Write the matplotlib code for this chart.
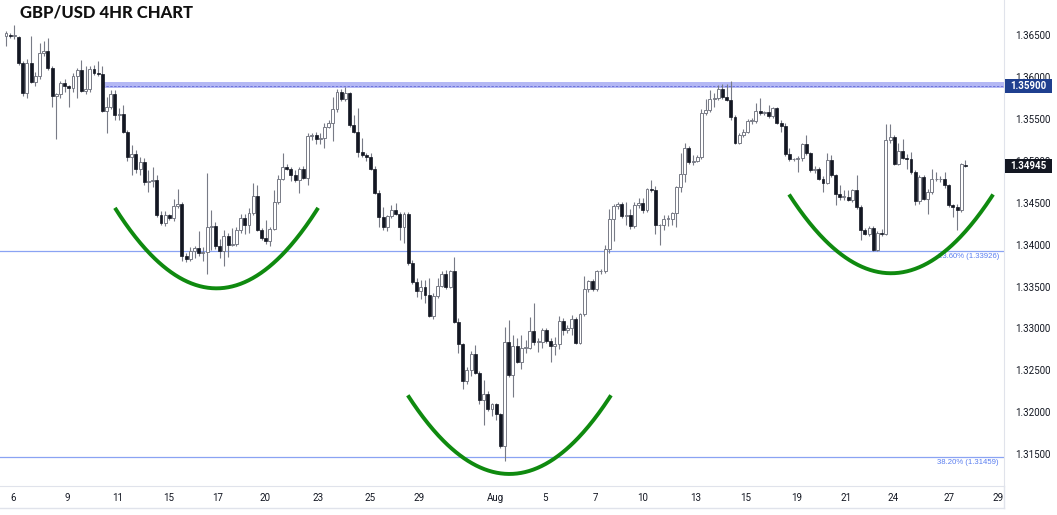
import numpy as np
import matplotlib
matplotlib.use('Agg')
import matplotlib.pyplot as plt
import matplotlib.transforms as mtransforms
from matplotlib.patches import Rectangle

# GBP/USD 4H candles
opens = [
    1.3649, 1.3650, 1.3649, 1.3648, 1.3617, 1.3581, 1.3617, 1.3595, 1.3602, 1.3629,
    1.3632, 1.3611, 1.3578, 1.3580, 1.3593, 1.3590, 1.3587, 1.3601, 1.3609, 1.3584,
    1.3586, 1.3610, 1.3605, 1.3604, 1.3560, 1.3564, 1.3580, 1.3555, 1.3556, 1.3535,
    1.3505, 1.3508, 1.3491, 1.3499, 1.3475, 1.3476, 1.3477, 1.3435, 1.3426, 1.3435,
    1.3432, 1.3446, 1.3449, 1.3387, 1.3383, 1.3393, 1.3396, 1.3390, 1.3391, 1.3421,
    1.3422, 1.3398, 1.3393, 1.3410, 1.3400, 1.3401, 1.3418, 1.3432, 1.3424, 1.3438,
    1.3458, 1.3418, 1.3408, 1.3404, 1.3419, 1.3451, 1.3479, 1.3493, 1.3491, 1.3483,
    1.3477, 1.3490, 1.3480, 1.3530, 1.3531, 1.3526, 1.3527, 1.3541, 1.3546, 1.3562,
    1.3583, 1.3574, 1.3581, 1.3543, 1.3535, 1.3511, 1.3507, 1.3505, 1.3491, 1.3462,
    1.3433, 1.3421, 1.3434, 1.3442, 1.3437, 1.3421, 1.3437, 1.3378, 1.3355, 1.3345,
    1.3349, 1.3340, 1.3315, 1.3339, 1.3351, 1.3365, 1.3350, 1.3368, 1.3308, 1.3281,
    1.3237, 1.3250, 1.3269, 1.3247, 1.3214, 1.3221, 1.3204, 1.3209, 1.3198, 1.3159,
    1.3284, 1.3244, 1.3279, 1.3260, 1.3277, 1.3277, 1.3297, 1.3284, 1.3284, 1.3298,
    1.3285, 1.3279, 1.3281, 1.3309, 1.3298, 1.3301, 1.3311, 1.3283, 1.3317, 1.3347,
    1.3356, 1.3347, 1.3368, 1.3369, 1.3395, 1.3431, 1.3446, 1.3449, 1.3434, 1.3436,
    1.3422, 1.3448, 1.3450, 1.3441, 1.3466, 1.3465, 1.3423, 1.3423, 1.3431, 1.3431,
    1.3438, 1.3469, 1.3485, 1.3515, 1.3499, 1.3500, 1.3505, 1.3557, 1.3561, 1.3574,
    1.3575, 1.3586, 1.3576, 1.3573, 1.3552, 1.3522, 1.3531, 1.3535, 1.3548, 1.3548,
    1.3560, 1.3557, 1.3558, 1.3554, 1.3563, 1.3546, 1.3542, 1.3508, 1.3502, 1.3502,
    1.3504, 1.3520, 1.3509, 1.3489, 1.3491, 1.3479, 1.3474, 1.3501, 1.3483, 1.3461,
    1.3457, 1.3457, 1.3453, 1.3465, 1.3445, 1.3418, 1.3413, 1.3420, 1.3394, 1.3414,
    1.3413, 1.3525, 1.3529, 1.3497, 1.3512, 1.3503, 1.3502, 1.3487, 1.3452, 1.3481,
    1.3455, 1.3463, 1.3478, 1.3478, 1.3479, 1.3471, 1.3447, 1.3445, 1.3441, 1.3495,
]
highs = [
    1.3655, 1.3653, 1.3663, 1.3649, 1.3620, 1.3622, 1.3649, 1.3606, 1.3641, 1.3643,
    1.3647, 1.3614, 1.3581, 1.3596, 1.3598, 1.3591, 1.3605, 1.3611, 1.3621, 1.3613,
    1.3614, 1.3615, 1.3619, 1.3614, 1.3577, 1.3585, 1.3585, 1.3563, 1.3567, 1.3537,
    1.3519, 1.3513, 1.3505, 1.3503, 1.3489, 1.3493, 1.3483, 1.3440, 1.3440, 1.3437,
    1.3454, 1.3467, 1.3451, 1.3390, 1.3397, 1.3399, 1.3416, 1.3397, 1.3486, 1.3441,
    1.3427, 1.3407, 1.3418, 1.3414, 1.3420, 1.3421, 1.3437, 1.3437, 1.3444, 1.3474,
    1.3471, 1.3420, 1.3430, 1.3421, 1.3465, 1.3483, 1.3510, 1.3496, 1.3493, 1.3489,
    1.3493, 1.3494, 1.3534, 1.3534, 1.3535, 1.3534, 1.3546, 1.3549, 1.3576, 1.3586,
    1.3586, 1.3589, 1.3583, 1.3555, 1.3563, 1.3527, 1.3510, 1.3509, 1.3494, 1.3465,
    1.3445, 1.3436, 1.3448, 1.3450, 1.3439, 1.3439, 1.3439, 1.3382, 1.3360, 1.3358,
    1.3358, 1.3360, 1.3342, 1.3360, 1.3368, 1.3370, 1.3370, 1.3385, 1.3312, 1.3283,
    1.3254, 1.3273, 1.3280, 1.3249, 1.3238, 1.3225, 1.3211, 1.3211, 1.3199, 1.3302,
    1.3310, 1.3292, 1.3289, 1.3292, 1.3286, 1.3313, 1.3330, 1.3288, 1.3300, 1.3300,
    1.3288, 1.3290, 1.3315, 1.3312, 1.3304, 1.3316, 1.3314, 1.3318, 1.3362, 1.3358,
    1.3359, 1.3370, 1.3371, 1.3400, 1.3443, 1.3449, 1.3451, 1.3451, 1.3451, 1.3443,
    1.3451, 1.3456, 1.3456, 1.3468, 1.3477, 1.3470, 1.3425, 1.3436, 1.3435, 1.3439,
    1.3470, 1.3510, 1.3521, 1.3518, 1.3507, 1.3507, 1.3562, 1.3574, 1.3585, 1.3581,
    1.3591, 1.3592, 1.3592, 1.3596, 1.3555, 1.3533, 1.3538, 1.3550, 1.3551, 1.3569,
    1.3575, 1.3560, 1.3567, 1.3565, 1.3565, 1.3549, 1.3545, 1.3515, 1.3504, 1.3506,
    1.3522, 1.3531, 1.3511, 1.3494, 1.3493, 1.3482, 1.3509, 1.3507, 1.3485, 1.3471,
    1.3465, 1.3465, 1.3466, 1.3483, 1.3447, 1.3420, 1.3422, 1.3422, 1.3416, 1.3419,
    1.3544, 1.3544, 1.3531, 1.3521, 1.3526, 1.3508, 1.3511, 1.3489, 1.3483, 1.3483,
    1.3467, 1.3490, 1.3487, 1.3482, 1.3487, 1.3473, 1.3449, 1.3449, 1.3498, 1.3501,
]
lows = [
    1.3637, 1.3647, 1.3646, 1.3615, 1.3578, 1.3575, 1.3593, 1.3590, 1.3598, 1.3626,
    1.3609, 1.3564, 1.3526, 1.3575, 1.3583, 1.3564, 1.3582, 1.3575, 1.3582, 1.3580,
    1.3583, 1.3603, 1.3602, 1.3558, 1.3533, 1.3562, 1.3549, 1.3549, 1.3533, 1.3500,
    1.3483, 1.3486, 1.3483, 1.3471, 1.3463, 1.3469, 1.3433, 1.3424, 1.3422, 1.3430,
    1.3428, 1.3444, 1.3380, 1.3379, 1.3381, 1.3384, 1.3386, 1.3381, 1.3365, 1.3394,
    1.3395, 1.3384, 1.3374, 1.3385, 1.3398, 1.3398, 1.3414, 1.3413, 1.3414, 1.3436,
    1.3416, 1.3405, 1.3401, 1.3399, 1.3418, 1.3449, 1.3477, 1.3489, 1.3476, 1.3475,
    1.3462, 1.3478, 1.3471, 1.3525, 1.3520, 1.3520, 1.3516, 1.3539, 1.3524, 1.3559,
    1.3572, 1.3572, 1.3541, 1.3533, 1.3505, 1.3505, 1.3500, 1.3489, 1.3460, 1.3421,
    1.3418, 1.3416, 1.3432, 1.3435, 1.3406, 1.3402, 1.3376, 1.3353, 1.3338, 1.3335,
    1.3330, 1.3313, 1.3311, 1.3336, 1.3349, 1.3347, 1.3348, 1.3306, 1.3270, 1.3227,
    1.3234, 1.3243, 1.3245, 1.3210, 1.3185, 1.3201, 1.3195, 1.3190, 1.3157, 1.3141,
    1.3242, 1.3218, 1.3258, 1.3252, 1.3270, 1.3275, 1.3280, 1.3272, 1.3276, 1.3283,
    1.3260, 1.3268, 1.3275, 1.3292, 1.3294, 1.3292, 1.3281, 1.3281, 1.3315, 1.3344,
    1.3345, 1.3345, 1.3365, 1.3366, 1.3390, 1.3404, 1.3443, 1.3432, 1.3423, 1.3419,
    1.3420, 1.3444, 1.3438, 1.3439, 1.3463, 1.3413, 1.3400, 1.3417, 1.3422, 1.3423,
    1.3421, 1.3463, 1.3475, 1.3497, 1.3495, 1.3499, 1.3502, 1.3555, 1.3559, 1.3564,
    1.3573, 1.3574, 1.3572, 1.3549, 1.3520, 1.3520, 1.3529, 1.3533, 1.3544, 1.3545,
    1.3555, 1.3555, 1.3551, 1.3551, 1.3544, 1.3535, 1.3506, 1.3500, 1.3500, 1.3487,
    1.3500, 1.3507, 1.3487, 1.3486, 1.3477, 1.3463, 1.3473, 1.3481, 1.3447, 1.3453,
    1.3453, 1.3452, 1.3451, 1.3443, 1.3406, 1.3411, 1.3410, 1.3392, 1.3392, 1.3410,
    1.3411, 1.3522, 1.3495, 1.3495, 1.3502, 1.3490, 1.3485, 1.3447, 1.3449, 1.3453,
    1.3437, 1.3461, 1.3476, 1.3475, 1.3468, 1.3445, 1.3433, 1.3418, 1.3439, 1.3493,
]
closes = [
    1.3653, 1.3649, 1.3650, 1.3617, 1.3581, 1.3617, 1.3595, 1.3602, 1.3629, 1.3632,
    1.3611, 1.3578, 1.3580, 1.3593, 1.3590, 1.3587, 1.3601, 1.3609, 1.3584, 1.3586,
    1.3610, 1.3605, 1.3604, 1.3560, 1.3564, 1.3580, 1.3555, 1.3556, 1.3535, 1.3505,
    1.3508, 1.3491, 1.3499, 1.3475, 1.3476, 1.3477, 1.3435, 1.3426, 1.3435, 1.3432,
    1.3446, 1.3449, 1.3387, 1.3383, 1.3393, 1.3396, 1.3390, 1.3391, 1.3421, 1.3422,
    1.3398, 1.3393, 1.3410, 1.3400, 1.3401, 1.3418, 1.3432, 1.3424, 1.3438, 1.3458,
    1.3418, 1.3408, 1.3404, 1.3419, 1.3451, 1.3479, 1.3493, 1.3491, 1.3483, 1.3477,
    1.3490, 1.3480, 1.3530, 1.3531, 1.3526, 1.3527, 1.3541, 1.3546, 1.3562, 1.3583,
    1.3574, 1.3581, 1.3543, 1.3535, 1.3511, 1.3507, 1.3505, 1.3491, 1.3462, 1.3433,
    1.3421, 1.3434, 1.3442, 1.3437, 1.3421, 1.3437, 1.3378, 1.3355, 1.3345, 1.3349,
    1.3340, 1.3315, 1.3339, 1.3351, 1.3365, 1.3350, 1.3368, 1.3308, 1.3281, 1.3237,
    1.3250, 1.3269, 1.3247, 1.3214, 1.3221, 1.3204, 1.3209, 1.3198, 1.3159, 1.3284,
    1.3244, 1.3279, 1.3260, 1.3277, 1.3277, 1.3297, 1.3284, 1.3284, 1.3298, 1.3285,
    1.3279, 1.3281, 1.3309, 1.3298, 1.3301, 1.3311, 1.3283, 1.3317, 1.3347, 1.3356,
    1.3347, 1.3368, 1.3369, 1.3395, 1.3431, 1.3446, 1.3449, 1.3434, 1.3436, 1.3422,
    1.3448, 1.3450, 1.3441, 1.3466, 1.3465, 1.3423, 1.3423, 1.3431, 1.3431, 1.3438,
    1.3469, 1.3485, 1.3515, 1.3499, 1.3500, 1.3505, 1.3557, 1.3561, 1.3574, 1.3575,
    1.3586, 1.3576, 1.3573, 1.3552, 1.3522, 1.3531, 1.3535, 1.3548, 1.3548, 1.3560,
    1.3557, 1.3558, 1.3554, 1.3563, 1.3546, 1.3542, 1.3508, 1.3502, 1.3502, 1.3504,
    1.3520, 1.3509, 1.3489, 1.3491, 1.3479, 1.3474, 1.3501, 1.3483, 1.3461, 1.3457,
    1.3457, 1.3453, 1.3465, 1.3445, 1.3418, 1.3413, 1.3420, 1.3394, 1.3414, 1.3413,
    1.3525, 1.3529, 1.3497, 1.3512, 1.3503, 1.3502, 1.3487, 1.3452, 1.3481, 1.3455,
    1.3463, 1.3478, 1.3478, 1.3479, 1.3471, 1.3447, 1.3445, 1.3441, 1.3496, 1.3494,
]

# x axis labels, placed at candle index
date_labels = ['6', '9', '11', '15', '17', '20', '23', '25', '29', 'Aug',
               '5', '7', '10', '13', '15', '19', '21', '24', '27', '29']
date_ticks = [1.8, 14.6, 26.7, 38.8, 50.4, 61.8, 74.5, 86.8, 98.6, 116.8,
              128.6, 140.6, 151.9, 164.7, 176.6, 188.8, 200.5, 211.7, 225.0, 236.9]

price_ticks = [1.315, 1.320, 1.325, 1.330, 1.335, 1.340, 1.345, 1.350, 1.355, 1.360, 1.365]

resistance = 1.3590
last_price = 1.34945
fib_levels = [1.33926, 1.31459]
fib_labels = ['23.60% (1.33926)', '38.20% (1.31459)']

# rounded-bottom sketches: (start, bottom, end) as (candle index, price)
cups = [
    [(26.0, 1.3444), (49.2, 1.3348), (74.5, 1.3444)],
    [(95.9, 1.3220), (120.3, 1.3126), (144.4, 1.3220)],
    [(186.9, 1.3460), (210.3, 1.3366), (235.6, 1.3460)],
]

o = np.array(opens)
h = np.array(highs)
l = np.array(lows)
c = np.array(closes)
h = np.maximum(h, np.maximum(o, c))
l = np.minimum(l, np.minimum(o, c))
x = np.arange(len(c))

fig = plt.figure(figsize=(10.57, 5.15), dpi=100)
ax = fig.add_axes([0, 29 / 515, 1004 / 1057, 486 / 515])
xmin, xmax = -1.43, 238.2
ax.set_xlim(xmin, xmax)
ax.set_ylim(1.31116, 1.36924)

wick_col = '#787b86'
down_col = '#131722'
ax.vlines(x, l, h, color=wick_col, lw=0.8, zorder=2)

up = c >= o
body_h = np.abs(c - o)
body_h = np.maximum(body_h, 0.00006)
bottoms = np.minimum(o, c)
ax.bar(x[up], body_h[up], bottom=bottoms[up], width=0.7, facecolor='white',
       edgecolor=wick_col, lw=0.7, zorder=3)
ax.bar(x[~up], body_h[~up], bottom=bottoms[~up], width=0.7, facecolor=down_col,
       edgecolor=down_col, lw=0.5, zorder=3)

# resistance zone
ax.fill_between([22.8, xmax], resistance - 0.00028, resistance + 0.00045,
                color='#b4b8f4', lw=0, zorder=1)
ax.hlines(resistance, 22.8, xmax, color='#6e74dc', lw=0.7, ls=(0, (2.5, 1.5)), zorder=1.5)

# fib levels
for lvl, lab in zip(fib_levels, fib_labels):
    ax.axhline(lvl, color='#8aa3f3', lw=0.9, zorder=1)
    ax.text(237.0, lvl - 0.00026, lab, ha='right', va='top', fontsize=5.6,
            color='#5a7ef0', family='Liberation Sans')

# cup curves
for pts in cups:
    px = [p[0] for p in pts]
    py = [p[1] for p in pts]
    coef = np.polyfit(px, py, 2)
    xx = np.linspace(px[0], px[-1], 200)
    ax.plot(xx, np.polyval(coef, xx), color='#0f8a0f', lw=2.8,
            solid_capstyle='butt', zorder=4)

# axes styling
for s in ['top', 'left']:
    ax.spines[s].set_visible(False)
ax.spines['right'].set_color('#e0e3eb')
ax.spines['bottom'].set_color('#e0e3eb')
ax.yaxis.tick_right()
ax.set_yticks(price_ticks)
ax.set_yticklabels(['%.5f' % p for p in price_ticks])
ax.set_xticks(date_ticks)
ax.set_xticklabels(date_labels)
ax.tick_params(axis='y', length=0, pad=8, labelsize=7, labelcolor='#131722')
ax.tick_params(axis='x', length=0, pad=5, labelsize=7, labelcolor='#131722')
for t in ax.get_xticklabels() + ax.get_yticklabels():
    t.set_family('Roboto')

# bottom frame line under the time scale
fig.add_artist(plt.Line2D([0, 1004 / 1057], [1 - 508 / 515, 1 - 508 / 515],
                          color='#e0e3eb', lw=1, transform=fig.transFigure))
fig.add_artist(plt.Line2D([1004 / 1057, 1004 / 1057], [1 - 508 / 515, 29 / 515],
                          color='#e0e3eb', lw=1, transform=fig.transFigure))

# price tags on the right scale
trans = mtransforms.blended_transform_factory(fig.transFigure, ax.transData)
for val, txt, col in [(resistance, '1.35900', '#1f3f8f'), (last_price, '1.34945', '#131722')]:
    rect = Rectangle((1005 / 1057, val - 0.00084), 47 / 1057, 0.00168,
                     transform=trans, facecolor=col, edgecolor='none',
                     clip_on=False, zorder=10)
    fig.add_artist(rect)
    fig.text(1028.5 / 1057, val, txt, transform=trans, ha='center', va='center',
             color='white', fontsize=7, family='Roboto', fontweight='bold', zorder=11)

fig.text(20 / 1057, 1 - 12 / 515, 'GBP/USD 4HR CHART', fontsize=12,
         fontweight='black', family='Lato', va='center', color='#111111')

fig.savefig('out.png', dpi=100, facecolor='white')
